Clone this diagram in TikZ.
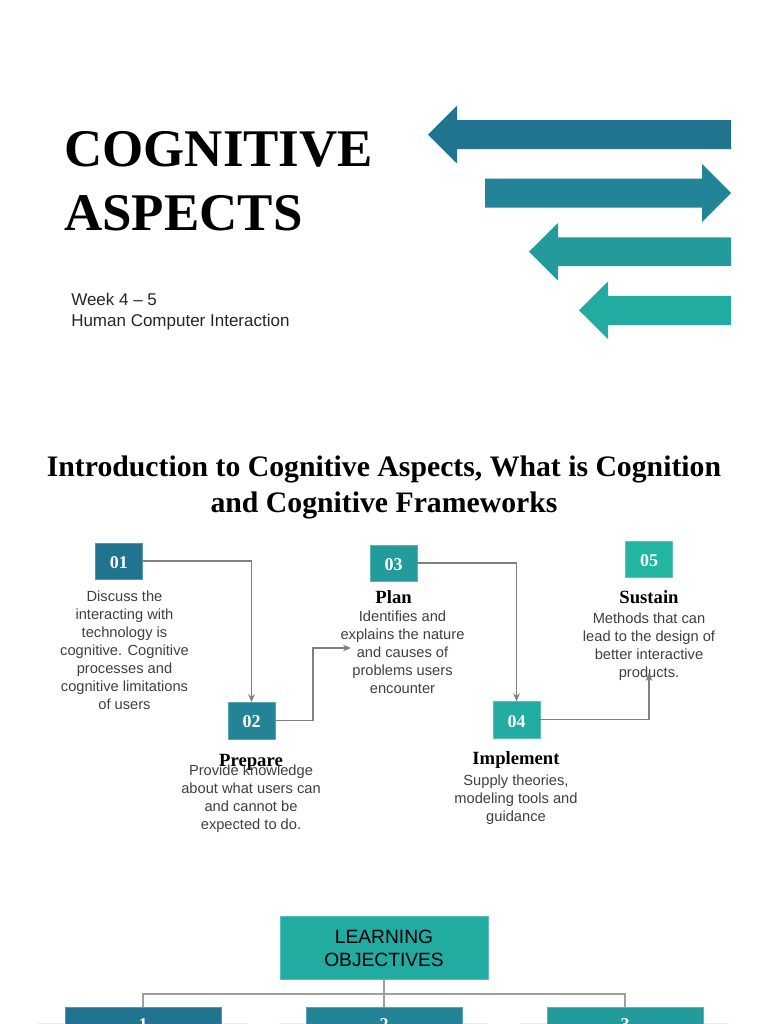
\documentclass[tikz,border=0pt]{standalone}
\usepackage{fontspec}
\setmainfont{Liberation Serif}
\setsansfont{Liberation Sans}
\usepackage[dvipsnames]{xcolor}
\usetikzlibrary{arrows.meta,positioning}
\definecolor{tealA}{HTML}{21748F}
\definecolor{tealB}{HTML}{228496}
\definecolor{tealC}{HTML}{239A9C}
\definecolor{tealD}{HTML}{22ABA1}
\definecolor{tealE}{HTML}{22B5A0}
\definecolor{paleline}{HTML}{E3EEF3}
\definecolor{bodygray}{HTML}{404040}
\tikzset{
    numbox/.style={rectangle, draw=#1!75!white, line width=0.3pt, fill=#1, text=white,
        font=\fontsize{13.5}{15}\selectfont\bfseries, minimum width=35pt, minimum height=27.3pt,
        inner sep=0pt, text height=11pt, text depth=0pt},
    headbox/.style={rectangle, draw=#1!75!white, line width=0.3pt, fill=#1, text=white,
        font=\fontsize{13.5}{15}\selectfont\bfseries, minimum width=117pt, minimum height=27pt, inner sep=0pt},
    bodytext/.style={align=center, text=bodygray, inner sep=0pt,
        font=\sffamily\fontsize{11}{13.5}\selectfont},
    steplabel/.style={inner sep=0pt, font=\fontsize{14}{16}\selectfont\bfseries},
    flowline/.style={draw=gray, line width=0.85pt, -{Stealth[length=6pt,width=5pt]}},
    treeline/.style={draw=black!38, line width=1.1pt}
}
\begin{document}
\begin{tikzpicture}[x=0.75pt, y=-0.75pt]
    \useasboundingbox (0,0) rectangle (768,1024);
    \fill [white] (0,0) rectangle (768,1024);

    \node (title) at (64, 181) [anchor=west, align=left, inner sep=0pt,
        font=\fontsize{39.7}{48}\selectfont\bfseries] {COGNITIVE\\ASPECTS};
    \node (week) at (71, 312) [anchor=west, align=left, inner sep=0pt,
        font=\sffamily\fontsize{12.75}{15.75}\selectfont, text=black!85] {Week 4 -- 5\\Human Computer Interaction};

    \fill [tealA] (428,134.6) -- (457,105.5) -- (457,120) -- (731,120) -- (731,149) -- (457,149) -- (457,163.5) -- cycle;
    \fill [tealB] (731,193) -- (702,164) -- (702,178.5) -- (485,178.5) -- (485,207.5) -- (702,207.5) -- (702,222) -- cycle;
    \fill [tealC] (529,251.7) -- (558,223) -- (558,237.3) -- (731,237.3) -- (731,266) -- (558,266) -- (558,280.5) -- cycle;
    \fill [tealD] (579,310.3) -- (608,281.5) -- (608,295.8) -- (731,295.8) -- (731,325) -- (608,325) -- (608,339) -- cycle;

    \node (intro) at (384, 487.5) [align=center, inner sep=0pt,
        font=\fontsize{22.3}{27}\selectfont\bfseries]
        {Introduction to Cognitive Aspects, What is Cognition\\and Cognitive Frameworks};

    \node (box01) at (118.8, 561) [numbox=tealA] {01};
    \node (box02) at (251.5, 720.5) [numbox=tealB] {02};
    \node (box03) at (393.6, 563) [numbox=tealC] {03};
    \node (box04) at (516.5, 719.7) [numbox=tealD] {04};
    \node (box05) at (649, 559.3) [numbox=tealE] {05};

    \node (desc01) at (124.5, 650) [bodytext] {Discuss the\\interacting with\\technology is\\cognitive. Cognitive\\processes and\\cognitive limitations\\of users};
    \node (name02) at (251, 762) [steplabel] {Prepare};
    \node (desc02) at (251, 799) [bodytext] {Provide knowledge\\about what users can\\and cannot be\\expected to do.};
    \node (name03) at (393.6, 597.5) [steplabel] {Plan};
    \node (desc03) at (402.5, 652) [bodytext] {Identifies and\\explains the nature\\and causes of\\problems users\\encounter};
    \node (name04) at (516, 760) [steplabel] {Implement};
    \node (desc04) at (516, 800) [bodytext] {Supply theories,\\modeling tools and\\guidance};
    \node (name05) at (649, 597.5) [steplabel] {Sustain};
    \node (desc05) at (649, 647) [bodytext] {Methods that can\\lead to the design of\\better interactive\\products.};

    \coordinate (bend02) at (313, 720.5);
    \coordinate (end02) at (351, 648);
    \coordinate (end05) at (649, 673);

    \draw [flowline] (box01) -| (box02);
    \draw [flowline] (box02) -- (bend02) |- (end02);
    \draw [flowline] (box03) -| (box04);
    \draw [flowline] (box04) -| (end05);

    \fill [paleline] (38,1022.7) rectangle (248,1060);
    \fill [paleline] (279,1022.7) rectangle (488,1060);
    \fill [paleline] (520.7,1022.7) rectangle (729,1060);

    \node (goals) at (384, 948) [rectangle, draw=tealD!75!white, line width=0.3pt, fill=tealD, align=center,
        font=\sffamily\fontsize{14.4}{17.2}\selectfont, minimum width=156pt, minimum height=47pt, inner sep=0pt]
        {LEARNING\\OBJECTIVES};
    \node (goal1) at (143, 1025) [headbox=tealA] {1};
    \node (goal2) at (384, 1025) [headbox=tealB] {2};
    \node (goal3) at (625, 1025) [headbox=tealC] {3};
    \coordinate (rail) at (384, 994);

    \draw [treeline] (goals) -- (rail);
    \draw [treeline] (goal1) |- (rail) -| (goal3);
    \draw [treeline] (rail) -- (goal2);
\end{tikzpicture}
\end{document}
